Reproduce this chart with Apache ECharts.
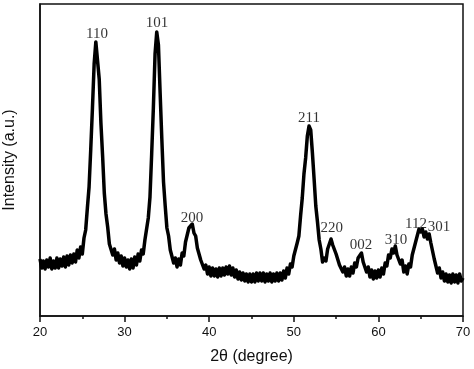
<!DOCTYPE html>
<html>
<head>
<meta charset="utf-8">
<script src="https://cdn.jsdelivr.net/npm/echarts@6/dist/echarts.min.js"></script>
<style>html,body{margin:0;padding:0;background:#fff}#c{width:474px;height:369px}</style>
</head>
<body>
<div id="c"></div>
<script>
// Sampling grid of the scan (degrees 2-theta)
const scanStart = 20.0;
const scanStep = 0.2;
// Intensity (arbitrary units), one value per 0.2 deg from 20 to 70
const intensity = [
  57,48,55,47,56,49,58,47,55,48,
  58,48,57,50,59,49,60,51,61,53,
  62,54,66,58,69,62,78,86,108,129,
  167,208,252,274,272,237,193,160,123,102,
  89,72,74,61,67,56,63,53,60,50,
  58,49,56,47,57,48,59,51,62,55,
  66,62,76,78,98,119,162,208,262,284,
  271,223,177,134,110,88,80,66,65,53,
  58,49,57,51,63,60,74,76,88,89,
  92,83,80,68,68,56,58,47,51,42,
  49,40,48,40,47,39,48,40,48,41,
  49,42,50,41,48,39,46,37,44,36,
  43,35,42,34,42,34,42,34,43,35,
  43,35,43,34,42,35,43,34,42,35,
  43,35,43,36,45,38,48,42,52,49,
  60,59,73,80,100,118,142,158,180,190,
  186,163,137,110,94,76,67,54,58,55,
  67,67,77,71,73,62,63,51,53,44,
  49,40,47,40,49,43,53,49,58,56,
  63,54,56,44,49,39,46,37,45,38,
  46,39,48,42,53,50,61,58,67,63,
  70,61,63,52,56,44,50,42,52,49,
  61,61,74,75,87,84,87,79,84,77,
  82,73,71,57,55,43,48,38,44,35,
  42,34,41,33,42,34,41,33,42,35,
  38
];
// Peak (hkl) labels and their positions
const peakNames = ['110','101','200','211','220','002','310','112','301'];
const peakX = [26.74, 33.83, 37.97, 51.8, 54.5, 57.94, 62.08, 64.44, 67.16];
const peakY = [282, 293, 98, 198, 88, 71, 76, 92, 89];

const curve = intensity.map((v, i) => [+(scanStart + i * scanStep).toFixed(2), v]);
const labels = peakNames.map((n, i) => ({ name: n, value: [peakX[i], peakY[i]] }));

const chart = echarts.init(document.getElementById('c'), null, { renderer: 'canvas' });
chart.setOption({
  animation: false,
  backgroundColor: '#fff',
  grid: { left: 40, right: 11, top: 4, bottom: 53, outerBoundsMode: 'none', containLabel: false,
          show: true, borderColor: '#111', borderWidth: 1.5, backgroundColor: 'transparent' },
  xAxis: {
    type: 'value', min: 20, max: 70, interval: 10,
    name: '2θ (degree)', nameLocation: 'middle', nameGap: 33,
    nameTextStyle: { fontFamily: 'Liberation Sans', fontSize: 16, color: '#111' },
    axisLine: { show: true, lineStyle: { color: '#111', width: 1.5 } },
    axisTick: { show: true, inside: false, length: 6, lineStyle: { color: '#111', width: 1.5 } },
    minorTick: { show: true, splitNumber: 2, length: 3, lineStyle: { color: '#111', width: 1.5 } },
    axisLabel: { fontFamily: 'Liberation Sans', fontSize: 13, color: '#111', margin: 10 },
    splitLine: { show: false }
  },
  yAxis: {
    type: 'value', min: 0, max: 312,
    name: 'Intensity (a.u.)', nameLocation: 'middle', nameGap: 22,
    nameTextStyle: { fontFamily: 'Liberation Sans', fontSize: 16, color: '#111' },
    axisLine: { show: true, lineStyle: { color: '#111', width: 1.5 } },
    axisTick: { show: false }, axisLabel: { show: false }, splitLine: { show: false }
  },
  series: [
    {
      type: 'line', data: curve, showSymbol: false, symbol: 'none',
      lineStyle: { color: '#000', width: 3.5, join: 'round' }, clip: true
    },
    {
      type: 'scatter', data: labels, symbolSize: 1,
      itemStyle: { color: 'rgba(0,0,0,0)' },
      label: { show: true, position: 'inside', formatter: '{b}', fontFamily: 'Liberation Serif', fontSize: 15,
               color: '#000', textBorderWidth: 0 },
      z: 5
    }
  ]
});
</script>
</body>
</html>
